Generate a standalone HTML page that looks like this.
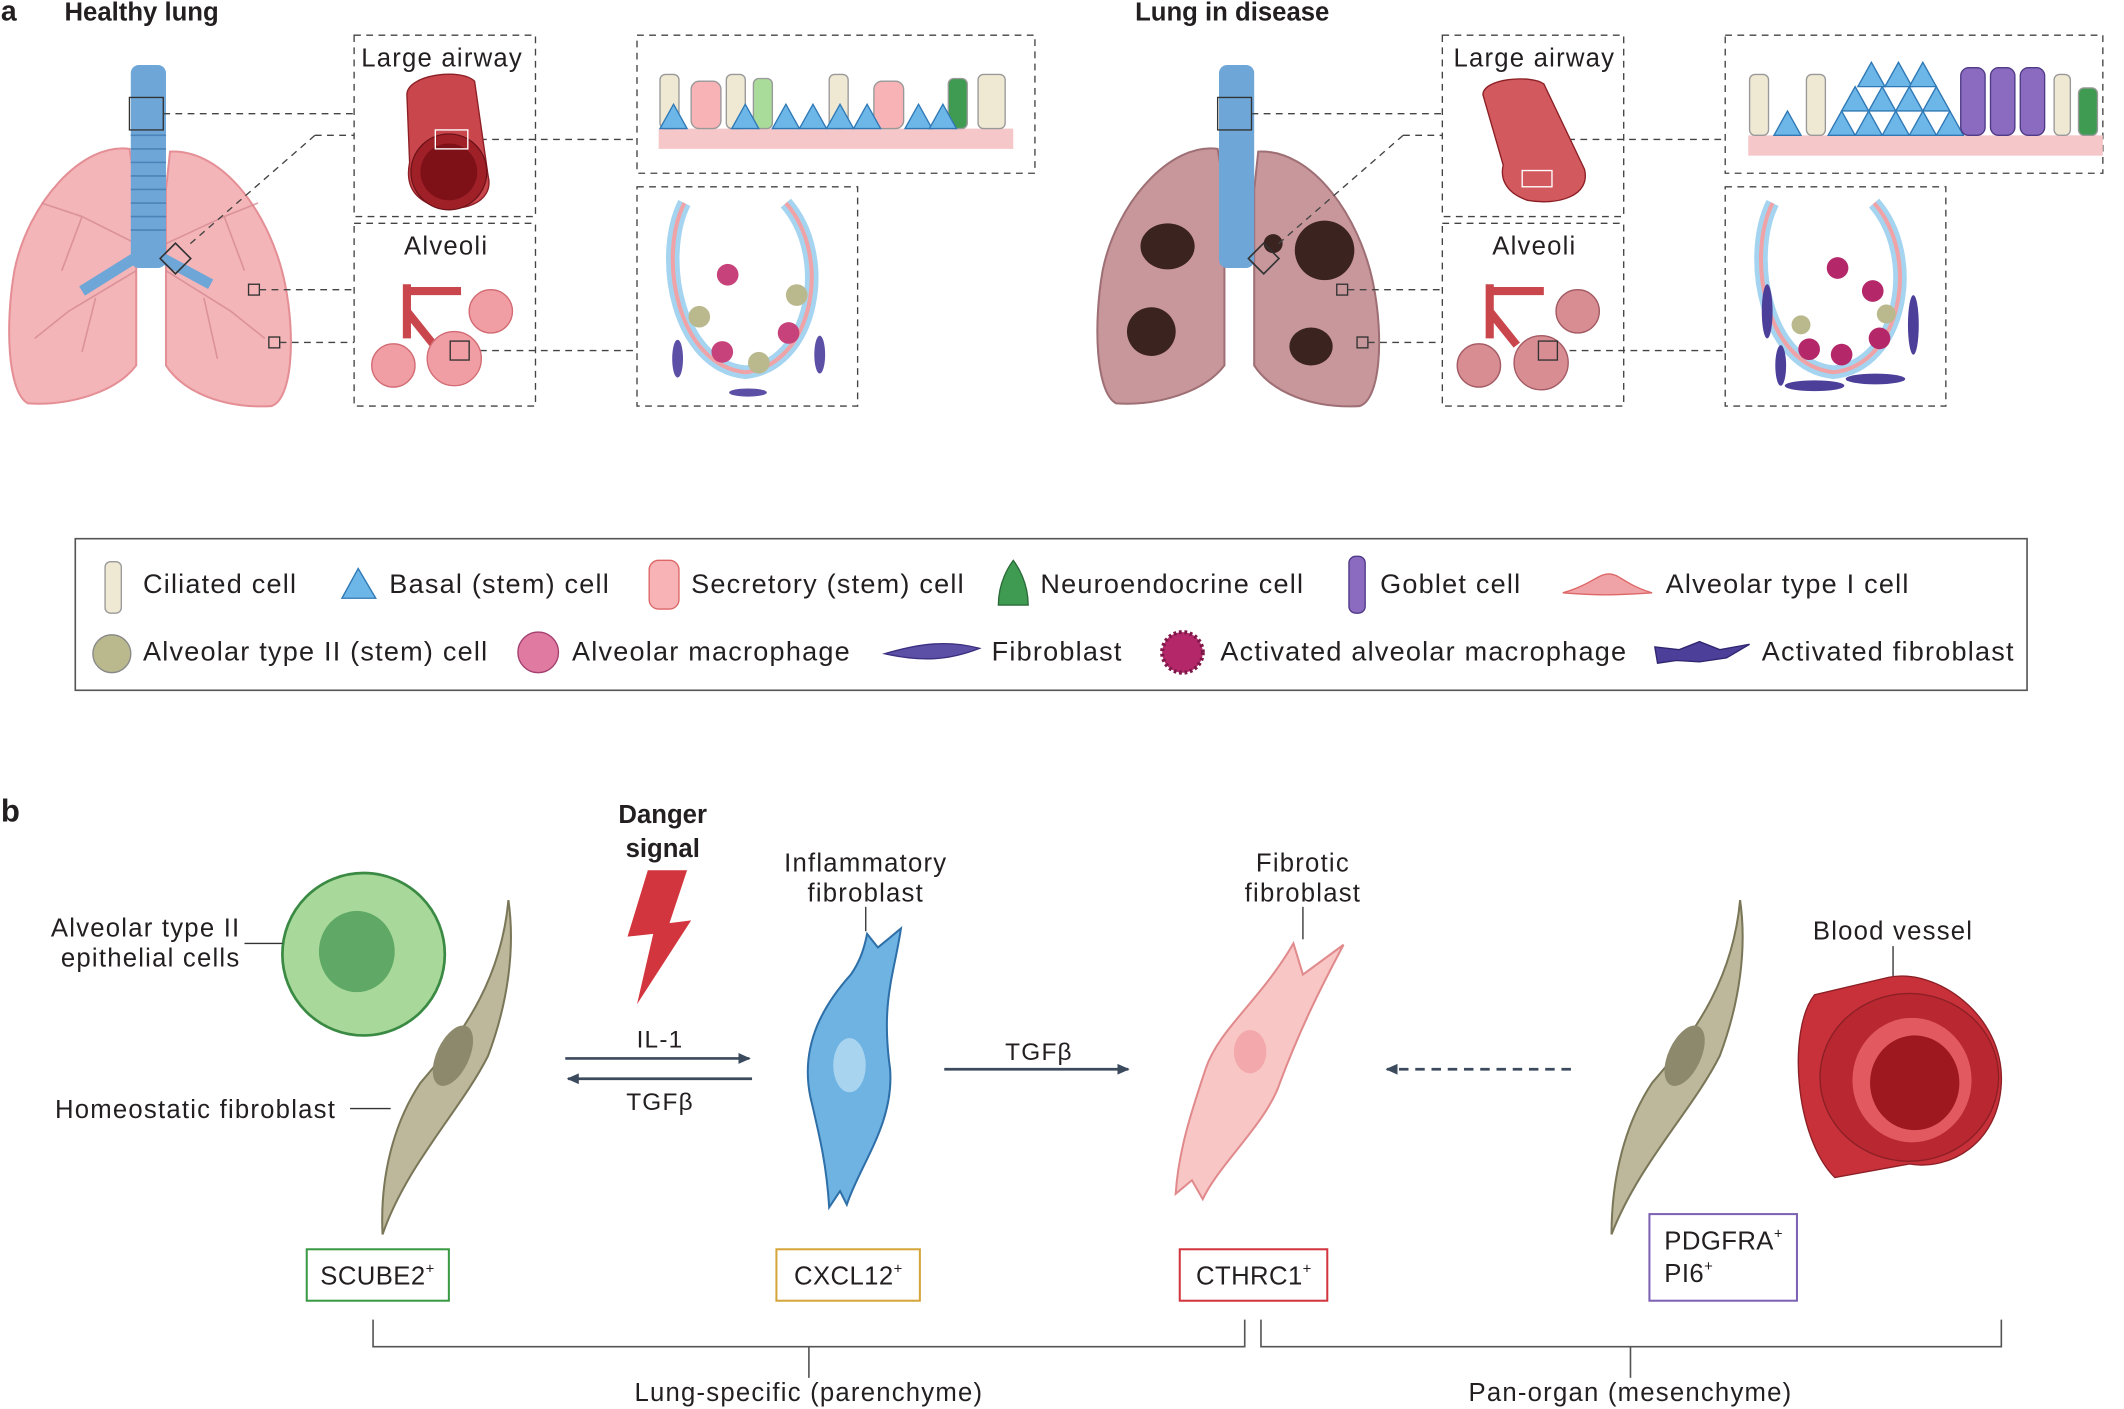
<!DOCTYPE html>
<html><head><meta charset="utf-8"><style>
html,body{margin:0;padding:0;background:#fff;}
svg{display:block;}
text{font-family:"Liberation Sans",sans-serif;fill:#231f20;letter-spacing:0.9px;}
text.b{letter-spacing:0;}
</style></head><body>
<svg width="2124" height="1409" viewBox="0 0 1568 1041" xmlns="http://www.w3.org/2000/svg">
<defs>
<marker id="ah" markerWidth="10" markerHeight="10" refX="8" refY="5" orient="auto" markerUnits="userSpaceOnUse"><path d="M0,1 L9,5 L0,9 z" fill="#3c4a5e"/></marker>
</defs>
<text class="b" x="0" y="15" font-size="21" font-weight="bold">a</text>
<text class="b" x="47" y="15" font-size="19" font-weight="bold">Healthy lung</text>
<text class="b" x="838" y="15" font-size="19" font-weight="bold">Lung in disease</text>

<g>
<path d="M95,110 C60,105 20,150 10,200 C3,240 5,290 20,298 C50,300 85,290 100,270 L100,140 Z" fill="#f4b5b8" stroke="#e48f95" stroke-width="1.5"/>
<path d="M125,112 C165,110 200,160 210,210 C218,250 215,295 200,300 C165,302 135,290 122,270 L122,140 Z" fill="#f4b5b8" stroke="#e48f95" stroke-width="1.5"/>
<g stroke="#d58a93" stroke-width="1.2" fill="none" opacity="0.8">
<path d="M100,180 L60,160 L30,150 M60,160 L45,200 M100,200 L50,230 L25,250 M70,220 L60,260"/>
<path d="M122,180 L165,160 L190,150 M165,160 L180,200 M122,200 L170,230 L195,250 M150,220 L160,265"/>
</g>
<rect x="96" y="48" width="26" height="150" rx="6" fill="#6ea6d8"/>
<g stroke="#4c83b8" stroke-width="1.2">
<line x1="96" y1="100" x2="122" y2="100"/><line x1="96" y1="110" x2="122" y2="110"/><line x1="96" y1="120" x2="122" y2="120"/><line x1="96" y1="130" x2="122" y2="130"/><line x1="96" y1="140" x2="122" y2="140"/><line x1="96" y1="150" x2="122" y2="150"/><line x1="96" y1="160" x2="122" y2="160"/><line x1="96" y1="170" x2="122" y2="170"/>
</g>
<path d="M100,190 L60,215 M118,190 L155,210" stroke="#6ea6d8" stroke-width="8" fill="none"/>
<rect x="95" y="72" width="25" height="24" fill="none" stroke="#333" stroke-width="1"/>
<rect x="121" y="183" width="16" height="16" fill="none" stroke="#333" stroke-width="1.2" transform="rotate(45 129 191)"/>
<rect x="183" y="210" width="8" height="8" fill="none" stroke="#333"/>
<rect x="198" y="249" width="8" height="8" fill="none" stroke="#333"/>
</g>
<g stroke="#444" stroke-width="1" stroke-dasharray="5,4" fill="none">
<line x1="120" y1="84" x2="261" y2="84"/>
<line x1="140" y1="180" x2="232" y2="100"/><line x1="232" y1="100" x2="261" y2="100"/>
<line x1="191" y1="214" x2="261" y2="214"/>
<line x1="206" y1="253" x2="261" y2="253"/>
<rect x="261" y="26" width="134" height="134"/>
<rect x="261" y="165" width="134" height="135"/>
<rect x="470" y="26" width="294" height="102"/>
<rect x="470" y="138" width="163" height="162"/>
<line x1="345" y1="103" x2="470" y2="103"/>
<line x1="345" y1="259" x2="470" y2="259"/>
</g>
<text x="326" y="49" font-size="19" text-anchor="middle">Large airway</text>
<text x="329" y="188" font-size="19" text-anchor="middle">Alveoli</text>
<path d="M300,70 C300,55 340,50 350,60 L360,130 C365,150 340,158 320,152 C300,145 300,130 302,120 Z" fill="#c9464c" stroke="#8c1f25"/>
<ellipse cx="331" cy="127" rx="28" ry="28" fill="#a02028" stroke="#6d1218"/>
<ellipse cx="331" cy="127" rx="21" ry="21" fill="#7d1117"/>
<rect x="321" y="96" width="24" height="14" fill="none" stroke="#fff"/>
<path d="M300,210 L300,250 M300,230 L320,255 M300,215 L340,215" stroke="#c9464c" stroke-width="6" fill="none"/>
<g fill="#f09ea3" stroke="#d26b74">
<circle cx="290" cy="270" r="16"/><circle cx="335" cy="265" r="20"/><circle cx="362" cy="230" r="16"/>
</g>
<rect x="332" y="252" width="14" height="14" fill="none" stroke="#333"/>
<rect x="486" y="95" width="262" height="15" fill="#f6c7c9"/>
<g stroke="#999" stroke-width="1">
<rect x="487" y="55" width="14" height="40" rx="4" fill="#efe9d4"/>
<rect x="510" y="60" width="22" height="35" rx="6" fill="#f7b3b5"/>
<rect x="536" y="55" width="14" height="40" rx="4" fill="#efe9d4"/>
<rect x="556" y="58" width="14" height="37" rx="4" fill="#a9db9a"/>
<rect x="612" y="55" width="14" height="40" rx="4" fill="#efe9d4"/>
<rect x="645" y="60" width="22" height="35" rx="6" fill="#f7b3b5"/>
<rect x="700" y="58" width="14" height="37" rx="4" fill="#3f9a52"/>
<rect x="722" y="55" width="20" height="40" rx="4" fill="#efe9d4"/>
</g>
<g fill="#6cb7e8" stroke="#2f78b5">
<path d="M487,95 l10,-18 l10,18z"/><path d="M540,95 l10,-18 l10,18z"/><path d="M570,95 l10,-18 l10,18z"/><path d="M590,95 l10,-18 l10,18z"/><path d="M610,95 l10,-18 l10,18z"/><path d="M630,95 l10,-18 l10,18z"/><path d="M668,95 l10,-18 l10,18z"/><path d="M686,95 l10,-18 l10,18z"/>
</g>
<path d="M505,150 C485,190 500,270 550,275 C600,270 615,190 580,150" fill="none" stroke="#a5d4f0" stroke-width="10"/>
<path d="M505,150 C485,190 500,270 550,275 C600,270 615,190 580,150" fill="none" stroke="#f0a3a6" stroke-width="3"/>
<g fill="#c7427a"><circle cx="537" cy="203" r="8"/><circle cx="533" cy="260" r="8"/><circle cx="582" cy="246" r="8"/></g>
<g fill="#bab98e"><circle cx="516" cy="234" r="8"/><circle cx="588" cy="218" r="8"/><circle cx="560" cy="268" r="8"/></g>
<g fill="#5b4fa6"><ellipse cx="500" cy="265" rx="4" ry="14"/><ellipse cx="605" cy="262" rx="4" ry="14"/><ellipse cx="552" cy="290" rx="14" ry="3"/></g>

<g>
<path d="M899,110 C864,105 824,150 814,200 C807,240 809,290 824,298 C854,300 889,290 904,270 L904,140 Z" fill="#c8979b" stroke="#9e6f74" stroke-width="1.5"/>
<path d="M929,112 C969,110 1004,160 1014,210 C1022,250 1019,295 1004,300 C969,302 939,290 926,270 L926,140 Z" fill="#c8979b" stroke="#9e6f74" stroke-width="1.5"/>
<rect x="900" y="48" width="26" height="150" rx="6" fill="#6ea6d8"/>
<g fill="#3b2320"><ellipse cx="862" cy="182" rx="20" ry="17"/><ellipse cx="850" cy="245" rx="18" ry="18"/><ellipse cx="978" cy="185" rx="22" ry="22"/><ellipse cx="968" cy="256" rx="16" ry="14"/><ellipse cx="940" cy="180" rx="7" ry="7"/></g>
<rect x="899" y="72" width="25" height="24" fill="none" stroke="#333"/>
<rect x="925" y="183" width="16" height="16" fill="none" stroke="#333" stroke-width="1.2" transform="rotate(45 933 191)"/>
<rect x="987" y="210" width="8" height="8" fill="none" stroke="#333"/>
<rect x="1002" y="249" width="8" height="8" fill="none" stroke="#333"/>
</g>
<g stroke="#444" stroke-width="1" stroke-dasharray="5,4" fill="none">
<line x1="924" y1="84" x2="1065" y2="84"/>
<line x1="944" y1="180" x2="1036" y2="100"/><line x1="1036" y1="100" x2="1065" y2="100"/>
<line x1="995" y1="214" x2="1065" y2="214"/>
<line x1="1010" y1="253" x2="1065" y2="253"/>
<rect x="1065" y="26" width="134" height="134"/>
<rect x="1065" y="165" width="134" height="135"/>
<rect x="1274" y="26" width="279" height="102"/>
<rect x="1274" y="138" width="163" height="162"/>
<line x1="1140" y1="103" x2="1274" y2="103"/>
<line x1="1150" y1="259" x2="1274" y2="259"/>
</g>
<text x="1133" y="49" font-size="19" text-anchor="middle">Large airway</text>
<text x="1133" y="188" font-size="19" text-anchor="middle">Alveoli</text>
<path d="M1095,70 C1095,58 1130,55 1140,62 L1170,125 C1175,145 1150,152 1128,148 C1110,142 1108,130 1110,122 Z" fill="#d25a5f" stroke="#8c1f25"/>
<rect x="1124" y="126" width="22" height="12" fill="none" stroke="#fff"/>
<path d="M1100,210 L1100,250 M1100,230 L1120,255 M1100,215 L1140,215" stroke="#c9464c" stroke-width="6" fill="none"/>
<g fill="#d88d93" stroke="#a35a63"><circle cx="1092" cy="270" r="16"/><circle cx="1138" cy="268" r="20"/><circle cx="1165" cy="230" r="16"/></g>
<rect x="1136" y="252" width="14" height="14" fill="none" stroke="#333"/>
<rect x="1291" y="100" width="262" height="15" fill="#f6c7c9"/>
<g stroke="#999"><rect x="1292" y="55" width="14" height="45" rx="4" fill="#efe9d4"/><rect x="1334" y="55" width="14" height="45" rx="4" fill="#efe9d4"/><rect x="1517" y="55" width="12" height="45" rx="4" fill="#efe9d4"/><rect x="1535" y="65" width="14" height="35" rx="4" fill="#3f9a52"/></g>
<g fill="#6cb7e8" stroke="#2f78b5">
<path d="M1310,100 l10,-18 l10,18z"/><path d="M1350,100 l10,-18 l10,18z"/><path d="M1370,100 l10,-18 l10,18z"/><path d="M1390,100 l10,-18 l10,18z"/><path d="M1410,100 l10,-18 l10,18z"/><path d="M1430,100 l10,-18 l10,18z"/>
<path d="M1360,82 l10,-18 l10,18z"/><path d="M1380,82 l10,-18 l10,18z"/><path d="M1400,82 l10,-18 l10,18z"/><path d="M1420,82 l10,-18 l10,18z"/>
<path d="M1372,64 l10,-18 l10,18z"/><path d="M1392,64 l10,-18 l10,18z"/><path d="M1410,64 l10,-18 l10,18z"/>
</g>
<g fill="#8b6bbf" stroke="#4f3a87"><rect x="1448" y="50" width="18" height="50" rx="6"/><rect x="1470" y="50" width="18" height="50" rx="6"/><rect x="1492" y="50" width="18" height="50" rx="6"/></g>
<path d="M1309,150 C1289,190 1304,270 1354,275 C1404,270 1419,190 1384,150" fill="none" stroke="#a5d4f0" stroke-width="10"/>
<path d="M1309,150 C1289,190 1304,270 1354,275 C1404,270 1419,190 1384,150" fill="none" stroke="#f0a3a6" stroke-width="3"/>
<g fill="#b4286a"><circle cx="1357" cy="198" r="8"/><circle cx="1336" cy="258" r="8"/><circle cx="1383" cy="215" r="8"/><circle cx="1388" cy="250" r="8"/><circle cx="1360" cy="262" r="8"/></g>
<g fill="#bab98e"><circle cx="1330" cy="240" r="7"/><circle cx="1393" cy="232" r="7"/></g>
<g fill="#4b3f9a"><ellipse cx="1305" cy="230" rx="4" ry="20"/><ellipse cx="1413" cy="240" rx="4" ry="22"/><ellipse cx="1340" cy="285" rx="22" ry="4"/><ellipse cx="1385" cy="280" rx="22" ry="4"/><ellipse cx="1315" cy="270" rx="4" ry="15"/></g>

<rect x="55" y="398" width="1442" height="112" fill="none" stroke="#555" stroke-width="1.2"/>
<g font-size="20">
<rect x="77" y="415" width="12" height="38" rx="4" fill="#efe9d4" stroke="#999"/>
<text x="105" y="438">Ciliated cell</text>
<path d="M252,442 l12,-22 l13,22z" fill="#6cb7e8" stroke="#2f78b5"/>
<text x="287" y="438">Basal (stem) cell</text>
<rect x="479" y="414" width="22" height="36" rx="7" fill="#f7b3b5" stroke="#d66"/>
<text x="510" y="438">Secretory (stem) cell</text>
<path d="M737,447 C737,430 745,418 748,414 C751,418 759,430 759,447 Z" fill="#3f9a52" stroke="#2a6b38"/>
<text x="768" y="438">Neuroendocrine cell</text>
<rect x="996" y="411" width="12" height="42" rx="5" fill="#8b6bbf" stroke="#4f3a87"/>
<text x="1019" y="438">Goblet cell</text>
<path d="M1154,438 C1175,432 1180,424 1188,424 C1196,424 1200,432 1220,438 C1190,440 1180,440 1154,438Z" fill="#f0a3a6" stroke="#d66"/>
<text x="1230" y="438">Alveolar type I cell</text>
<circle cx="82" cy="483" r="14" fill="#bab98e" stroke="#888"/>
<text x="105" y="488">Alveolar type II (stem) cell</text>
<circle cx="397" cy="482" r="15" fill="#e07aa0" stroke="#a34070"/>
<text x="422" y="488">Alveolar macrophage</text>
<path d="M653,483 C680,475 700,473 723,479 C700,488 680,489 653,483Z" fill="#5b4fa6" stroke="#3b2f80"/>
<text x="732" y="488">Fibroblast</text>
<circle cx="873" cy="482" r="15" fill="#b4286a" stroke="#7d1848" stroke-width="3" stroke-dasharray="2,2"/>
<text x="901" y="488">Activated alveolar macrophage</text>
<path d="M1222,478 L1240,480 L1255,474 L1270,480 L1292,476 L1275,486 L1255,489 L1238,488 L1224,490Z" fill="#4b3f9a" stroke="#2f2670"/>
<text x="1301" y="488">Activated fibroblast</text>
</g>

<text class="b" x="0" y="607" font-size="23" font-weight="bold">b</text>
<text class="b" x="489" y="608" font-size="19" font-weight="bold" text-anchor="middle">Danger</text>
<text class="b" x="489" y="633" font-size="19" font-weight="bold" text-anchor="middle">signal</text>
<path d="M478,643 L507,643 L494,682 L510,680 L470,742 L482,690 L463,692 Z" fill="#d2353d"/>

<circle cx="268" cy="705" r="60" fill="#a8d99a" stroke="#3a8a44" stroke-width="2"/>
<ellipse cx="263" cy="703" rx="28" ry="30" fill="#5fa865"/>
<path d="M375,665 C370,720 345,760 310,800 C290,830 280,870 282,912 C300,860 340,820 360,780 C375,740 380,700 375,665Z" fill="#bdb89c" stroke="#7a7658" stroke-width="1.5"/>
<ellipse cx="334" cy="780" rx="12" ry="24" fill="#8d896c" transform="rotate(25 334 780)"/>
<text x="177" y="692" font-size="19" text-anchor="end">Alveolar type II</text>
<text x="177" y="714" font-size="19" text-anchor="end">epithelial cells</text>
<line x1="180" y1="697" x2="208" y2="697" stroke="#333"/>
<text x="40" y="826" font-size="19">Homeostatic fibroblast</text>
<line x1="258" y1="819" x2="288" y2="819" stroke="#333"/>

<text x="487" y="774" font-size="18" text-anchor="middle">IL-1</text>
<line x1="417" y1="782" x2="553" y2="782" stroke="#3c4a5e" stroke-width="2" marker-end="url(#ah)"/>
<line x1="555" y1="797" x2="419" y2="797" stroke="#3c4a5e" stroke-width="2" marker-end="url(#ah)"/>
<text x="487" y="820" font-size="18" text-anchor="middle">TGFβ</text>

<text x="639" y="644" font-size="19" text-anchor="middle">Inflammatory</text>
<text x="639" y="666" font-size="19" text-anchor="middle">fibroblast</text>
<line x1="639" y1="670" x2="639" y2="688" stroke="#333"/>
<path d="M640,690 L648,700 L665,686 C660,720 650,740 657,790 C660,830 635,860 625,890 L620,880 L612,892 C610,860 605,840 598,810 C590,770 610,740 628,720 C635,710 638,700 640,690Z" fill="#6fb3e3" stroke="#2f6fa8" stroke-width="1.5"/>
<ellipse cx="627" cy="787" rx="12" ry="20" fill="#a9d4f0"/>

<text x="767" y="783" font-size="18" text-anchor="middle">TGFβ</text>
<line x1="697" y1="790" x2="833" y2="790" stroke="#3c4a5e" stroke-width="2" marker-end="url(#ah)"/>

<text x="962" y="644" font-size="19" text-anchor="middle">Fibrotic</text>
<text x="962" y="666" font-size="19" text-anchor="middle">fibroblast</text>
<line x1="962" y1="670" x2="962" y2="694" stroke="#333"/>
<path d="M955,697 L962,720 L992,698 C975,730 960,760 945,800 C935,830 900,860 888,886 L880,872 L868,882 C870,850 880,820 890,790 C900,760 930,740 955,697Z" fill="#f9c6c6" stroke="#e08a8c" stroke-width="1.5"/>
<ellipse cx="923" cy="777" rx="12" ry="16" fill="#f3a9ab"/>

<line x1="1160" y1="790" x2="1024" y2="790" stroke="#3c4a5e" stroke-width="2" stroke-dasharray="7,5" marker-end="url(#ah)"/>

<path d="M1285,665 C1280,720 1255,760 1220,800 C1200,830 1190,870 1190,912 C1210,860 1250,820 1270,780 C1285,740 1290,700 1285,665Z" fill="#bdb89c" stroke="#7a7658" stroke-width="1.5"/>
<ellipse cx="1244" cy="780" rx="12" ry="24" fill="#8d896c" transform="rotate(25 1244 780)"/>

<text x="1398" y="694" font-size="19" text-anchor="middle">Blood vessel</text>
<line x1="1398" y1="699" x2="1398" y2="722" stroke="#333"/>
<path d="M1340,735 L1395,722 C1430,715 1480,750 1478,800 C1476,845 1440,865 1410,860 L1355,870 C1325,840 1320,760 1340,735Z" fill="#c9313a" stroke="#8c1f25"/>
<ellipse cx="1410" cy="796" rx="66" ry="62" fill="#b92730" stroke="#8c1f25"/>
<ellipse cx="1412" cy="798" rx="44" ry="46" fill="#e25a5f"/>
<ellipse cx="1414" cy="800" rx="33" ry="35" fill="#9e1820"/>

<g font-size="19">
<rect x="226" y="923" width="105" height="38" fill="none" stroke="#3a9a44" stroke-width="1.5"/>
<text x="236" y="949" style="letter-spacing:0.3px">SCUBE2<tspan font-size="11" dy="-8">+</tspan></text>
<rect x="573" y="923" width="106" height="38" fill="none" stroke="#d4a63a" stroke-width="1.5"/>
<text x="586" y="949" style="letter-spacing:0.3px">CXCL12<tspan font-size="11" dy="-8">+</tspan></text>
<rect x="871" y="923" width="109" height="38" fill="none" stroke="#d2353d" stroke-width="1.5"/>
<text x="883" y="949" style="letter-spacing:0.3px">CTHRC1<tspan font-size="11" dy="-8">+</tspan></text>
<rect x="1218" y="897" width="109" height="64" fill="none" stroke="#7d62b3" stroke-width="1.5"/>
<text x="1229" y="923" style="letter-spacing:0.3px">PDGFRA<tspan font-size="11" dy="-8">+</tspan></text>
<text x="1229" y="947" style="letter-spacing:0.3px">PI6<tspan font-size="11" dy="-8">+</tspan></text>
</g>

<g stroke="#555" stroke-width="1.2" fill="none">
<path d="M275,975 L275,995 L919,995 L919,975"/><line x1="597" y1="995" x2="597" y2="1018"/>
<path d="M931,975 L931,995 L1478,995 L1478,975"/><line x1="1204" y1="995" x2="1204" y2="1018"/>
</g>
<text x="597" y="1035" font-size="19" text-anchor="middle">Lung-specific (parenchyme)</text>
<text x="1204" y="1035" font-size="19" text-anchor="middle">Pan-organ (mesenchyme)</text>
</svg>
</body></html>
